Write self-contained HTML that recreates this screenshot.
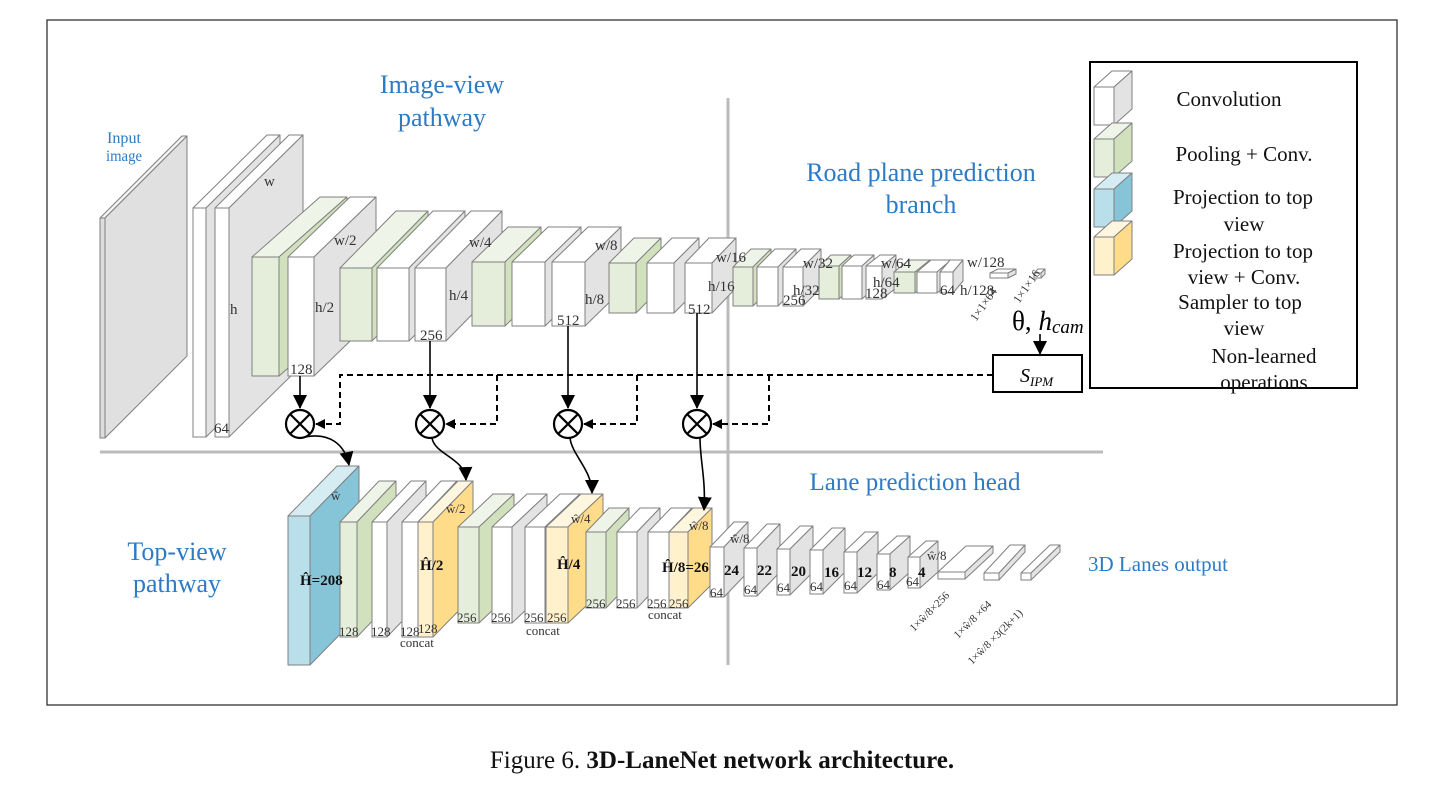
<!DOCTYPE html>
<html><head><meta charset="utf-8"><style>
html,body{margin:0;padding:0;background:#fff;}
svg{display:block;font-family:"Liberation Serif",serif;}
</style></head><body>
<svg id="s" width="1447" height="788" viewBox="0 0 1447 788" xmlns="http://www.w3.org/2000/svg">
<defs>
<marker id="ah" markerWidth="10" markerHeight="10" refX="9" refY="5" orient="auto" markerUnits="userSpaceOnUse"><path d="M0,0 L10,5 L0,10 z" fill="#000"/></marker>
<marker id="ah2" markerWidth="14" markerHeight="14" refX="13" refY="7" orient="auto" markerUnits="userSpaceOnUse"><path d="M0,0 L14,7 L0,14 z" fill="#000"/></marker>
</defs>
<rect x="47" y="20" width="1350" height="685" fill="none" stroke="#222" stroke-width="1.2"/>
<line x1="100" y1="452" x2="1103" y2="452" stroke="#bbb" stroke-width="3"/>
<line x1="728" y1="98" x2="728" y2="665" stroke="#bbb" stroke-width="3"/>
<g id="boxes"></g>
<g fill="#2e7bc4" font-size="26" text-anchor="middle">
<text x="442" y="93">Image-view</text><text x="442" y="126">pathway</text>
<text x="921" y="181">Road plane prediction</text><text x="921" y="213">branch</text>
<text x="915" y="490" font-size="25">Lane prediction head</text>
<text x="177" y="560">Top-view</text><text x="177" y="592">pathway</text>
<text x="1158" y="571" font-size="21">3D Lanes output</text>
<text x="124" y="143" font-size="16" textLength="34" lengthAdjust="spacingAndGlyphs">Input</text><text x="124" y="161" font-size="16" textLength="36" lengthAdjust="spacingAndGlyphs">image</text>
</g>
<g font-size="15" fill="#333" id="lbl">
<text x="264" y="186">w</text><text x="230" y="314">h</text><text x="214" y="433">64</text>
<text x="334" y="245">w/2</text><text x="315" y="312">h/2</text><text x="290" y="374">128</text>
<text x="469" y="247">w/4</text><text x="449" y="300">h/4</text><text x="420" y="340">256</text>
<text x="595" y="250">w/8</text><text x="585" y="304">h/8</text><text x="557" y="325">512</text>
<text x="716" y="262">w/16</text><text x="708" y="291">h/16</text><text x="688" y="314">512</text>
<text x="803" y="268">w/32</text><text x="793" y="295">h/32</text><text x="783" y="305">256</text>
<text x="881" y="268">w/64</text><text x="873" y="287">h/64</text><text x="865" y="298">128</text>
<text x="967" y="267">w/128</text><text x="960" y="295">h/128</text><text x="940" y="295">64</text>
<text x="0" y="0" transform="translate(976,322) rotate(-55)" font-size="12">1×1×64</text>
<text x="0" y="0" transform="translate(1019,304) rotate(-55)" font-size="12">1×1×16</text>
</g>
<g font-size="13" fill="#333">
<text x="331" y="500">ŵ</text><text x="446" y="513">ŵ/2</text><text x="571" y="523">ŵ/4</text><text x="689" y="530">ŵ/8</text>
<text x="730" y="543">ŵ/8</text><text x="927" y="560">ŵ/8</text>
<text x="339" y="636">128</text><text x="371" y="636">128</text><text x="400" y="636">128</text><text x="418" y="633">128</text>
<text x="400" y="647">concat</text>
<text x="457" y="622">256</text><text x="491" y="622">256</text><text x="524" y="622">256</text><text x="547" y="622">256</text>
<text x="526" y="635">concat</text>
<text x="586" y="608">256</text><text x="616" y="608">256</text><text x="647" y="608">256</text><text x="669" y="608">256</text>
<text x="648" y="619">concat</text>
<text x="710" y="597">64</text><text x="744" y="594">64</text><text x="777" y="592">64</text><text x="810" y="591">64</text><text x="844" y="590">64</text><text x="877" y="589">64</text><text x="906" y="586">64</text>
<g font-weight="bold" font-size="15" fill="#111">
<text x="300" y="585">Ĥ=208</text><text x="420" y="570">Ĥ/2</text><text x="557" y="569">Ĥ/4</text><text x="662" y="572">Ĥ/8=26</text>
<text x="724" y="575">24</text><text x="757" y="575">22</text><text x="791" y="576">20</text><text x="824" y="577">16</text><text x="857" y="577">12</text><text x="889" y="577">8</text><text x="918" y="577">4</text>
</g>
<text transform="translate(914,632) rotate(-45)" font-size="11">1×ŵ/8×256</text>
<text transform="translate(958,639) rotate(-45)" font-size="11">1×ŵ/8 ×64</text>
<text transform="translate(972,665) rotate(-45)" font-size="11">1×ŵ/8 ×3(2k+1)</text>
</g>
<g stroke="#000" stroke-width="1.6" fill="none">
<line x1="300" y1="376" x2="300" y2="408" marker-end="url(#ah2)"/>
<line x1="430" y1="341" x2="430" y2="408" marker-end="url(#ah2)"/>
<line x1="568" y1="326" x2="568" y2="408" marker-end="url(#ah2)"/>
<line x1="697" y1="313" x2="697" y2="408" marker-end="url(#ah2)"/>
<path d="M305,437 C330,432 345,445 349,465" marker-end="url(#ah2)"/>
<path d="M432,438 C435,455 465,458 466,480" marker-end="url(#ah2)"/>
<path d="M570,438 C572,455 592,470 592,493" marker-end="url(#ah2)"/>
<path d="M700,438 C700,460 706,480 704,510" marker-end="url(#ah2)"/>
<path d="M1040,334 L1040,354" marker-end="url(#ah2)"/>
</g>
<g stroke="#000" stroke-width="2" fill="none" stroke-dasharray="6,4">
<path d="M993,375 L340,375 L340,424 L316,424" marker-end="url(#ah)"/>
<path d="M497,375 L497,424 L446,424" marker-end="url(#ah)"/>
<path d="M637,375 L637,424 L584,424" marker-end="url(#ah)"/>
<path d="M769,375 L769,424 L713,424" marker-end="url(#ah)"/>
<path d="M1098,367 L1166,367" marker-end="url(#ah)"/>
</g>
<g id="circ" stroke="#000" stroke-width="2.2" fill="#fff"></g>
<rect x="993" y="355" width="89" height="37" fill="#fff" stroke="#000" stroke-width="2"/>
<text x="1020" y="382" font-size="20" font-style="italic">S<tspan font-size="13" dy="4">IPM</tspan></text>
<text x="1012" y="330" font-size="27">θ, <tspan font-style="italic">h</tspan><tspan font-style="italic" font-size="19" dy="3">cam</tspan></text>
<rect x="1090" y="62" width="267" height="326" fill="#fff" stroke="#000" stroke-width="2"/>
<g id="leg"></g>
<g font-size="21" fill="#111" text-anchor="middle">
<text x="1229" y="106">Convolution</text>
<text x="1244" y="161">Pooling + Conv.</text>
<text x="1243" y="204">Projection to top</text><text x="1244" y="231">view</text>
<text x="1243" y="258">Projection to top</text><text x="1244" y="284">view + Conv.</text>
<text x="1240" y="309">Sampler to top</text><text x="1244" y="335">view</text>
<text x="1264" y="363">Non-learned</text><text x="1264" y="389">operations</text>
</g>
<text x="722" y="768" font-size="25" text-anchor="middle" fill="#111">Figure 6. <tspan font-weight="bold">3D-LaneNet network architecture.</tspan></text>
<script>
var P={W:['#fff','#fff','#e3e3e3'],G:['#e4eedb','#eef4e7','#d2e1bd'],B:['#b9dfea','#d6ecf3','#86c4d8'],Y:['#fff1cc','#fff6df','#ffdc8a'],I:['#ddd','#f4f4f4','#e0e0e0']};
var NS='http://www.w3.org/2000/svg';
function poly(g,pts,f){var p=document.createElementNS(NS,'polygon');p.setAttribute('points',pts.map(function(a){return a.join(',')}).join(' '));p.setAttribute('fill',f);p.setAttribute('stroke','#808080');p.setAttribute('stroke-width','1');p.setAttribute('stroke-linejoin','round');g.appendChild(p);}
function b(x,y,w,h,dx,dy,t,g){g=g||document.getElementById('boxes');var c=P[t||'W'];
poly(g,[[x,y],[x+dx,y-dy],[x+w+dx,y-dy],[x+w,y]],c[1]);
poly(g,[[x+w,y],[x+w+dx,y-dy],[x+w+dx,y+h-dy],[x+w,y+h]],c[2]);
poly(g,[[x,y],[x+w,y],[x+w,y+h],[x,y+h]],c[0]);}
b(100,218,5,220,82,82,'I');
b(193,208,13,229,74,73,'W');b(215,208,14,229,74,73,'W');
b(252,257,27,119,68,60,'G');b(288,257,26,119,62,60,'W');
b(340,268,32,73,56,57,'G');b(377,268,32,73,56,57,'W');b(415,268,31,73,56,57,'W');
b(472,262,33,64,36,35,'G');b(512,262,33,64,36,35,'W');b(552,262,33,64,36,35,'W');
b(609,263,27,50,25,25,'G');b(647,263,27,50,25,25,'W');b(685,263,27,50,24,25,'W');
b(733,267,20,39,18,18,'G');b(757,267,21,39,18,18,'W');b(783,267,20,39,18,18,'W');
b(819,266,20,33,12,11,'G');b(842,266,20,33,12,11,'W');b(866,266,16,33,14,11,'W');
b(894,272,21,21,15,12,'G');b(917,272,20,21,14,12,'W');b(940,272,13,21,10,12,'W');
b(990,273,18,5,8,4,'W');b(1034,273,7,5,4,4,'W');
b(288,516,22,149,49,50,'B');
b(340,522,17,115,39,41,'G');b(372,522,15,115,39,41,'W');b(402,522,16,115,39,41,'W');b(418,522,15,115,40,41,'Y');
b(458,527,21,96,35,33,'G');b(492,527,20,96,35,33,'W');b(525,527,20,96,35,33,'W');b(546,527,22,96,35,33,'Y');
b(586,532,20,76,23,24,'G');b(617,532,20,76,23,24,'W');b(648,532,21,76,23,24,'W');b(669,532,19,76,24,24,'Y');
b(710,547,14,50,24,25);b(744,548,13,48,23,24);b(777,549,13,46,23,23);b(810,550,13,44,22,22);b(844,552,13,41,21,20);b(877,554,13,36,20,18);b(908,557,12,31,18,16);
b(938,572,27,7,28,26);b(984,573,15,7,26,28);b(1021,573,10,7,29,28);
var lg=document.getElementById('leg');
b(1094,87,20,38,18,16,'W',lg);b(1094,139,20,38,18,16,'G',lg);b(1094,189,20,38,18,16,'B',lg);b(1094,237,20,38,18,16,'Y',lg);
function cx(x,y,r,g){var c=document.createElementNS(NS,'circle');c.setAttribute('cx',x);c.setAttribute('cy',y);c.setAttribute('r',r);g.appendChild(c);
var d=r*0.707,p=document.createElementNS(NS,'path');p.setAttribute('d','M'+(x-d)+','+(y-d)+'L'+(x+d)+','+(y+d)+'M'+(x+d)+','+(y-d)+'L'+(x-d)+','+(y+d));g.appendChild(p);}
var cg=document.getElementById('circ');
[300,430,568,697].forEach(function(x){cx(x,424,14,cg);});
cx(1108,302,13,cg);
</script>
</svg>
</body></html>
